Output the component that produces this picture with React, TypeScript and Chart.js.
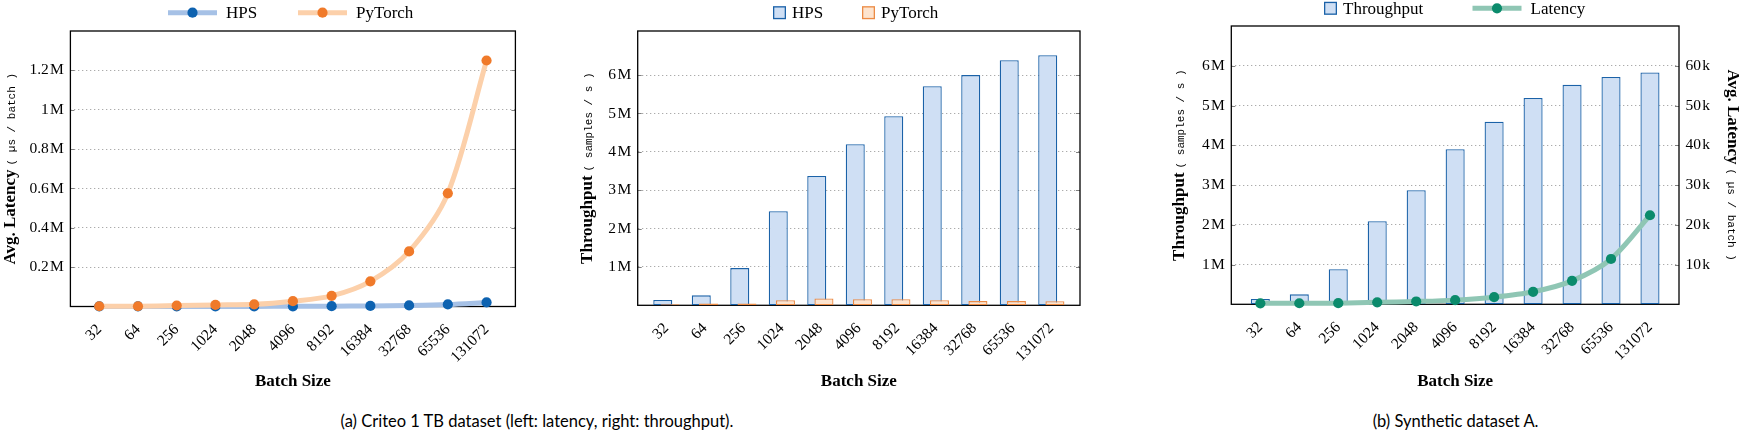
import React, { useEffect, useRef } from 'react';
import { Chart, registerables } from 'chart.js';

Chart.register(...registerables);

// ---------------- data ----------------
const batchSizes = ['32', '64', '256', '1024', '2048', '4096', '8192', '16384', '32768', '65536', '131072'];

// (a) left: average latency (µs / batch)
const criteoLatencyHPS = [230, 250, 260, 420, 610, 980, 1660, 2900, 5500, 10300, 20500];
const criteoLatencyPyTorch = [1200, 1300, 5000, 7900, 11000, 27000, 54000, 128000, 280000, 575000, 1250000];

// (a) right: throughput (samples / s)
const criteoThroughputHPS = [140000, 260000, 970000, 2450000, 3370000, 4200000, 4930000, 5710000, 6000000, 6390000, 6520000];
const criteoThroughputPyTorch = [26000, 50000, 50000, 130000, 180000, 160000, 160000, 130000, 110000, 110000, 105000];

// (b) synthetic dataset A
const synthThroughput = [136000, 250000, 880000, 2090000, 2870000, 3900000, 4590000, 5190000, 5520000, 5720000, 5830000];
const synthLatency = [250, 260, 290, 500, 710, 1050, 1800, 3150, 5900, 11400, 22400];

// tick values / labels
const latencyTicksM = [200000, 400000, 600000, 800000, 1000000, 1200000];
const latencyTickLabelsM = ['0.2\u200AM', '0.4\u200AM', '0.6\u200AM', '0.8\u200AM', '1\u200AM', '1.2\u200AM'];
const throughputTicks = [1000000, 2000000, 3000000, 4000000, 5000000, 6000000];
const throughputTickLabels = ['1\u200AM', '2\u200AM', '3\u200AM', '4\u200AM', '5\u200AM', '6\u200AM'];
const latencyTicksK = [10000, 20000, 30000, 40000, 50000, 60000];
const latencyTickLabelsK = ['10\u200Ak', '20\u200Ak', '30\u200Ak', '40\u200Ak', '50\u200Ak', '60\u200Ak'];

// ---------------- styles ----------------
const SERIF = '"Liberation Serif", "Times New Roman", serif';
const MONO = '"Liberation Mono", "DejaVu Sans Mono", monospace';

const HPS_MARKER = '#0d62b0';
const HPS_LINE = '#a6c1e6';
const HPS_FILL = '#cfdff4';
const HPS_BORDER = '#1b62a8';
const PT_MARKER = '#f07a2a';
const PT_LINE = '#fcd0aa';
const PT_FILL = '#fde4cf';
const PT_BORDER = '#ec8b45';
const LAT_LINE = '#8fc6b4';
const LAT_MARKER = '#0b8b6c';

const MARKER_R = 5.1;

const toPoints = (vals: number[]) => vals.map((v, i) => ({ x: i, y: v }));

type LegendSpec = { dataset: number; kind: 'line' | 'box'; x: number };
type TitleSpec = { x: number; bold: string; mono: string; dir: 1 | -1 };
type DecorSpec = {
  legendY: number;
  legend: LegendSpec[];
  titles: TitleSpec[];
  xTitle: string;
  xTitleY: number;
  gridAxis: string;
};

function makeDecor(spec: DecorSpec) {
  return {
    id: 'decor',
    beforeDatasetsDraw(chart: any) {
      const { ctx, chartArea: a } = chart;
      ctx.save();
      const ys = chart.scales[spec.gridAxis];
      ctx.strokeStyle = '#808080';
      ctx.lineWidth = 1;
      ys.ticks.forEach((t: any) => {
        const py = Math.round(ys.getPixelForValue(t.value)) + 0.5;
        ctx.beginPath();
        ctx.moveTo(a.left, py);
        ctx.lineTo(a.left + 4, py);
        ctx.moveTo(a.right - 4, py);
        ctx.lineTo(a.right, py);
        ctx.stroke();
      });
      ctx.strokeStyle = '#000';
      ctx.lineWidth = 1.3;
      ctx.strokeRect(a.left, a.top, a.right - a.left, a.bottom - a.top);
      ctx.restore();
    },
    afterDraw(chart: any) {
      const { ctx, chartArea: a } = chart;
      ctx.save();
      // legend
      spec.legend.forEach((item) => {
        const ds: any = chart.data.datasets[item.dataset];
        const y = spec.legendY;
        let tx: number;
        if (item.kind === 'line') {
          ctx.strokeStyle = ds.borderColor;
          ctx.lineWidth = 5;
          ctx.beginPath();
          ctx.moveTo(item.x, y);
          ctx.lineTo(item.x + 49, y);
          ctx.stroke();
          ctx.fillStyle = ds.pointBackgroundColor;
          ctx.beginPath();
          ctx.arc(item.x + 24.5, y, MARKER_R, 0, Math.PI * 2);
          ctx.fill();
          tx = item.x + 58;
        } else {
          ctx.fillStyle = ds.backgroundColor;
          ctx.fillRect(item.x, y - 6.5, 13, 13);
          ctx.strokeStyle = ds.borderColor;
          ctx.lineWidth = 1.3;
          ctx.strokeRect(item.x + 0.65, y - 5.85, 11.7, 11.7);
          tx = item.x + 19;
        }
        ctx.fillStyle = '#000';
        ctx.font = `17px ${SERIF}`;
        ctx.textAlign = 'left';
        ctx.textBaseline = 'middle';
        ctx.fillText(ds.label, tx, y + 1);
      });
      // y titles
      const cy = (a.top + a.bottom) / 2;
      spec.titles.forEach((t) => {
        const boldFont = `bold 17px ${SERIF}`;
        const monoFont = `11px ${MONO}`;
        ctx.font = boldFont;
        const wb = ctx.measureText(t.bold).width;
        ctx.font = monoFont;
        const wm = ctx.measureText(t.mono).width;
        const gap = 4;
        const total = wb + gap + wm;
        ctx.save();
        ctx.translate(t.x + (t.dir < 0 ? 5.6 : -5.6), cy);
        ctx.rotate((t.dir * Math.PI) / 2);
        ctx.fillStyle = '#000';
        ctx.textAlign = 'left';
        ctx.textBaseline = 'alphabetic';
        ctx.font = boldFont;
        ctx.fillText(t.bold, -total / 2, 0);
        ctx.font = monoFont;
        ctx.fillText(t.mono, -total / 2 + wb + gap, 0);
        ctx.restore();
      });
      // x title
      ctx.fillStyle = '#000';
      ctx.font = `bold 17px ${SERIF}`;
      ctx.textAlign = 'center';
      ctx.textBaseline = 'middle';
      ctx.fillText(spec.xTitle, (a.left + a.right) / 2, spec.xTitleY);
      ctx.restore();
    },
  };
}

function xAxis(min: number, max: number, display = true): any {
  return {
    type: 'linear',
    min,
    max,
    display,
    offset: false,
    afterBuildTicks: (axis: any) => {
      axis.ticks = batchSizes.map((_, i) => ({ value: i }));
    },
    afterFit: display
      ? (axis: any) => {
          axis.height = 80;
        }
      : undefined,
    grid: { display: false, offset: false },
    border: { display: false },
    ticks: {
      autoSkip: false,
      minRotation: 45,
      maxRotation: 45,
      padding: 6,
      color: '#000',
      font: { family: SERIF, size: 15.5 },
      callback: (_v: any, i: number) => batchSizes[i],
    },
  };
}

function yAxis(min: number, max: number, ticks: number[], labels: string[], width: number, position = 'left', grid = true): any {
  return {
    type: 'linear',
    position,
    min,
    max,
    afterBuildTicks: (axis: any) => {
      axis.ticks = ticks.map((v) => ({ value: v }));
    },
    afterFit: (axis: any) => {
      axis.width = width;
    },
    grid: { display: grid, drawOnChartArea: grid, drawTicks: false, color: '#ababab', lineWidth: 1 },
    border: { display: false, dash: [1.3, 2.7] },
    ticks: {
      padding: 6.5,
      color: '#000',
      font: { family: SERIF, size: 15.5 },
      callback: (_v: any, i: number) => labels[i],
    },
  };
}

const XMIN = -0.745;
const XMAX = 10.745;

function lineDataset(label: string, values: number[], line: string, marker: string, order: number, extra: any = {}): any {
  return {
    type: 'line',
    label,
    data: toPoints(values),
    borderColor: line,
    backgroundColor: line,
    pointBackgroundColor: marker,
    pointBorderWidth: 0,
    pointRadius: MARKER_R,
    borderWidth: 5,
    tension: 0.3,
    clip: false,
    order,
    ...extra,
  };
}

function buildLatencyChart(canvas: HTMLCanvasElement) {
  return new Chart(canvas, {
    type: 'line',
    data: {
      datasets: [
        lineDataset('HPS', criteoLatencyHPS, HPS_LINE, HPS_MARKER, 1),
        lineDataset('PyTorch', criteoLatencyPyTorch, PT_LINE, PT_MARKER, 0),
      ],
    },
    options: {
      animation: false,
      responsive: false,
      devicePixelRatio: 1,
      layout: { padding: { left: 0, right: 44.6, top: 31, bottom: 13.5 } },
      plugins: { legend: { display: false }, tooltip: { enabled: false } },
      scales: {
        x: xAxis(XMIN, XMAX),
        y: yAxis(0, 1400000, latencyTicksM, latencyTickLabelsM, 70.4),
      },
    },
    plugins: [
      makeDecor({
        legendY: 12.7,
        legend: [
          { dataset: 0, kind: 'line', x: 168 },
          { dataset: 1, kind: 'line', x: 298 },
        ],
        titles: [{ x: 9.5, bold: 'Avg. Latency', mono: '( µs / batch )', dir: -1 }],
        xTitle: 'Batch Size',
        xTitleY: 381.7,
        gridAxis: 'y',
      }),
    ],
  } as any);
}

function buildThroughputChart(canvas: HTMLCanvasElement) {
  const shift = 0.0935;
  return new Chart(canvas, {
    type: 'bar',
    data: {
      datasets: [
        {
          label: 'HPS',
          data: toPoints(criteoThroughputHPS),
          backgroundColor: HPS_FILL,
          borderColor: HPS_BORDER,
          borderWidth: 1.3,
          borderSkipped: false,
          grouped: false,
          barPercentage: 0.494,
          categoryPercentage: 1,
          xAxisID: 'xh',
          order: 1,
        } as any,
        {
          label: 'PyTorch',
          data: toPoints(criteoThroughputPyTorch),
          backgroundColor: PT_FILL,
          borderColor: PT_BORDER,
          borderWidth: 1.3,
          borderSkipped: false,
          grouped: false,
          barPercentage: 0.494,
          categoryPercentage: 1,
          xAxisID: 'xp',
          order: 0,
        } as any,
      ],
    },
    options: {
      animation: false,
      responsive: false,
      devicePixelRatio: 1,
      layout: { padding: { left: 0, right: 40, top: 31, bottom: 14.7 } },
      plugins: { legend: { display: false }, tooltip: { enabled: false } },
      scales: {
        x: xAxis(XMIN, XMAX),
        xh: xAxis(XMIN + shift, XMAX + shift, false),
        xp: xAxis(XMIN - shift, XMAX - shift, false),
        y: yAxis(0, 7150000, throughputTicks, throughputTickLabels, 77.7),
      },
    },
    plugins: [
      makeDecor({
        legendY: 12.7,
        legend: [
          { dataset: 0, kind: 'box', x: 213 },
          { dataset: 1, kind: 'box', x: 302 },
        ],
        titles: [{ x: 26, bold: 'Throughput', mono: '( samples / s )', dir: -1 }],
        xTitle: 'Batch Size',
        xTitleY: 381.7,
        gridAxis: 'y',
      }),
    ],
  } as any);
}

function buildSyntheticChart(canvas: HTMLCanvasElement) {
  return new Chart(canvas, {
    type: 'bar',
    data: {
      datasets: [
        {
          label: 'Throughput',
          data: toPoints(synthThroughput),
          backgroundColor: HPS_FILL,
          borderColor: HPS_BORDER,
          borderWidth: 1.3,
          borderSkipped: false,
          barPercentage: 0.489,
          categoryPercentage: 1,
          yAxisID: 'y',
          order: 1,
        } as any,
        lineDataset('Latency', synthLatency, LAT_LINE, LAT_MARKER, 0, { yAxisID: 'y1' }),
      ],
    },
    options: {
      animation: false,
      responsive: false,
      devicePixelRatio: 1,
      layout: { padding: { left: 0, right: 0, top: 26, bottom: 15.7 } },
      plugins: { legend: { display: false }, tooltip: { enabled: false } },
      scales: {
        x: xAxis(XMIN, XMAX),
        y: yAxis(0, 7000000, throughputTicks, throughputTickLabels, 111.3),
        y1: yAxis(0, 70000, latencyTicksK, latencyTickLabelsK, 62, 'right', false),
      },
    },
    plugins: [
      makeDecor({
        legendY: 8.3,
        legend: [
          { dataset: 0, kind: 'box', x: 204 },
          { dataset: 1, kind: 'line', x: 352.5 },
        ],
        titles: [
          { x: 58.4, bold: 'Throughput', mono: '( samples / s )', dir: -1 },
          { x: 613.3, bold: 'Avg. Latency', mono: '( µs / batch )', dir: 1 },
        ],
        xTitle: 'Batch Size',
        xTitleY: 381.7,
        gridAxis: 'y',
      }),
    ],
  } as any);
}

export default function App() {
  const c1 = useRef<HTMLCanvasElement>(null);
  const c2 = useRef<HTMLCanvasElement>(null);
  const c3 = useRef<HTMLCanvasElement>(null);

  useEffect(() => {
    const charts: Chart[] = [];
    if (c1.current) charts.push(buildLatencyChart(c1.current));
    if (c2.current) charts.push(buildThroughputChart(c2.current));
    if (c3.current) charts.push(buildSyntheticChart(c3.current));
    return () => charts.forEach((c) => c.destroy());
  }, []);

  const captionStyle: React.CSSProperties = {
    position: 'absolute',
    top: 411.2,
    height: 21,
    lineHeight: '21px',
    textAlign: 'center',
    fontFamily: 'Lato, "Open Sans", sans-serif',
    fontSize: 16.5,
    color: '#000',
    whiteSpace: 'nowrap',
  };

  return (
    <div style={{ position: 'absolute', left: 0, top: 0, width: 1741, height: 433, background: '#fff', overflow: 'hidden' }}>
      <canvas ref={c1} width={560} height={400} style={{ position: 'absolute', left: 0, top: 0, width: 560, height: 400 }} />
      <canvas ref={c2} width={560} height={400} style={{ position: 'absolute', left: 560, top: 0, width: 560, height: 400 }} />
      <canvas ref={c3} width={621} height={400} style={{ position: 'absolute', left: 1120, top: 0, width: 621, height: 400 }} />
      <div style={{ ...captionStyle, left: 537 - 300, width: 600 }}>(a) Criteo 1 TB dataset (left: latency, right: throughput).</div>
      <div style={{ ...captionStyle, left: 1455.6 - 200, width: 400 }}>(b) Synthetic dataset A.</div>
    </div>
  );
}
